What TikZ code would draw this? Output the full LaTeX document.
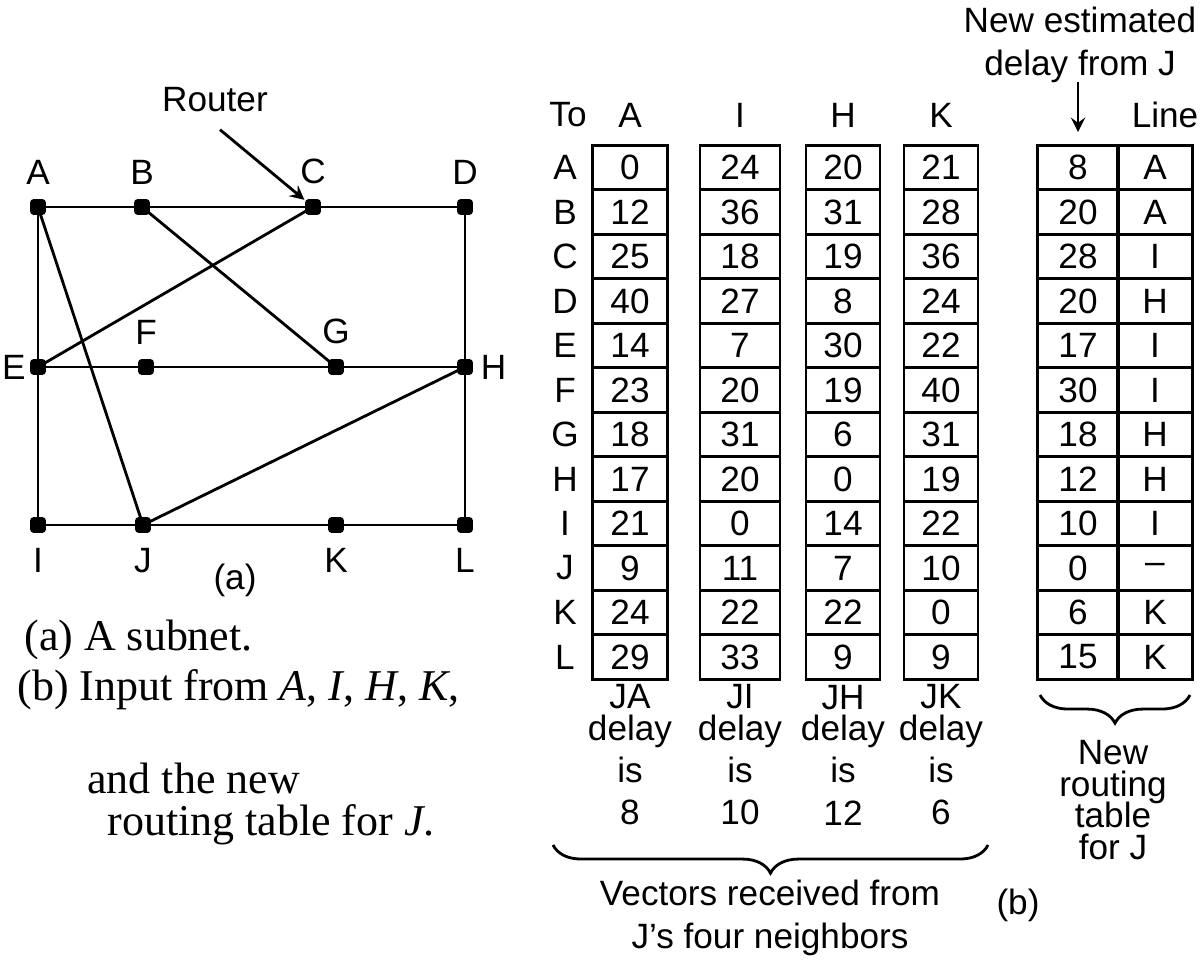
\documentclass[tikz,border=0pt]{standalone}
\usepackage{fontspec}
\setmainfont{Liberation Sans}
\newfontfamily\capfont{Liberation Serif}
\usetikzlibrary{arrows,decorations.pathreplacing}
\tikzstyle{router} = [rectangle,fill=black,inner sep=0pt,minimum size=4.5pt,rounded corners=1pt]
\tikzstyle{link} = [thick]
\tikzstyle{cell} = [draw,thick,minimum height=0.445cm,inner sep=0pt,font=\fontsize{10}{12}\selectfont]
\tikzstyle{lbl} = [font=\fontsize{10}{12}\selectfont]
\tikzstyle{caption} = [font=\capfont\fontsize{12.5}{15}\selectfont,anchor=west]
\begin{document}
\begin{tikzpicture}[x=0.01cm,y=-0.01cm]
    \useasboundingbox (0,0) rectangle (1200,968);
    % subnet
    \foreach \n/\x/\y in {A/38/207,B/142/207,C/313/207,D/465/207,
                          E/38/367,F/146/367,G/336/367,H/465/367,
                          I/38/525,J/143/525,K/336/525,L/465/525}
     \node[router] (\n) at (\x,\y) {};
    \foreach \u/\v in {A/B,B/C,C/D,A/E,D/H,E/F,F/G,G/H,E/I,H/L,I/J,J/K,K/L,A/J,B/G,E/C,J/H}
     \draw[link] (\u.center) -- (\v.center);
    \foreach \n in {A,B,C,D} \node[lbl,above=3pt] at (\n) {\n};
    \node[lbl,above=3pt] at (F) {F};
    \node[lbl,above=3pt] at (G) {G};
    \node[lbl,left=0pt] at (E) {E};
    \node[lbl,right=1pt] at (H) {H};
    \foreach \n in {I,J,K,L} \node[lbl,below=3pt] at (\n) {\n};
    \node[lbl] (suba) at (235,580) {(a)};
    \node[lbl] (rlabel) at (215,100) {Router};
    \draw[thick,->,>=stealth] (rlabel.south) ++(5,5) -- (C);
    % captions
    \node[caption] (capa) at (12,640) {(a) A subnet.};
    \node[caption] (capb) at (5,690) {(b) Input from \textit{A}, \textit{I}, \textit{H}, \textit{K},};
    \node[caption] (capc) at (75,778) {and the new};
    \node[caption] (capd) at (95,825) {routing table for \textit{J}.};
    % vectors
    \node[lbl] (to) at (568,115) {To};
    \foreach \r [count=\i] in {A,B,C,D,E,F,G,H,I,J,K,L}
     \node[lbl] (row\i) at (565,{123+44.5*\i}) {\r};
    \foreach \c/\x/\w/\vals in {A/630/75/{0,12,25,40,14,23,18,17,21,9,24,29},
                                I/740/80/{24,36,18,27,7,20,31,20,0,11,22,33},
                                H/843/74/{20,31,19,8,30,19,6,0,14,7,22,9},
                                K/941/74/{21,28,36,24,22,40,31,19,22,10,0,9}}{
     \node[lbl] (head\c) at (\x,115) {\c};
     \foreach \v [count=\i] in \vals
      \node[cell,minimum width=\w*0.01cm] (\c\i) at (\x,{123+44.5*\i}) {\v};
    }
    \foreach \c/\x/\d in {A/630/8,I/740/10,H/843/12,K/941/6}
     \node[lbl,align=center,inner sep=0pt] (dly\c) at (\x,755)
      {J\c\\[-3pt]delay\\is\\\d};
    % new table
    \foreach \v/\l [count=\i] in {8/A,20/A,28/I,20/H,17/I,30/I,18/H,12/H,10/I,0/--,6/K,15/K}{
     \node[cell,minimum width=0.81cm] (new\i) at (1078,{123+44.5*\i}) {\v};
     \node[cell,minimum width=0.75cm] (line\i) at (1155,{123+44.5*\i}) {\l};
    }
    \node[lbl] (linehd) at (1165,115) {Line};
    \node[lbl,align=center] (estim) at (1080,45) {New estimated\\delay from J};
    \draw[thick,->,>=stealth] (1078,82) -- (1078,132);
    \node[lbl,align=center] (newtab) at (1113,800) {New\\[-3pt]routing\\[-3pt]table\\[-3pt]for J};
    % braces
    \draw[thick,decorate,decoration={brace,mirror,amplitude=8pt}] (553,845) -- (988,845);
    \draw[thick,decorate,decoration={brace,mirror,amplitude=8pt}] (1040,695) -- (1190,695);
    \node[lbl,align=center] (vectors) at (770,918) {Vectors received from\\J's four neighbors};
    \node[lbl] (subb) at (1018,905) {(b)};
\end{tikzpicture}
\end{document}
